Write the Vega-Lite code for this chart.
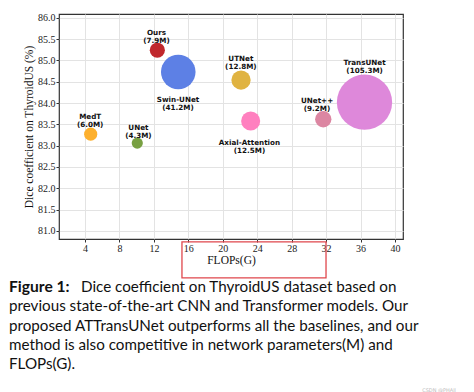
{
  "$schema": "https://vega.github.io/schema/vega-lite/v6.json",
  "background": "white",
  "padding": {"left": 9, "top": 12, "right": 0, "bottom": 0},
  "spacing": 0,
  "config": {
    "view": {"stroke": "#333333", "strokeWidth": 1.2},
    "axis": {
      "labelFont": "Liberation Serif",
      "labelFontSize": 10,
      "labelColor": "#222222",
      "titleFont": "Liberation Serif",
      "titleFontSize": 11.5,
      "titleFontWeight": "normal",
      "titleColor": "#111111",
      "domain": false,
      "tickColor": "#333333",
      "tickSize": 3,
      "labelPadding": 1,
      "gridColor": "#e3e3e3",
      "gridWidth": 1,
      "labelOverlap": false
    },
    "axisX": {"labelFlush": false, "titlePadding": 1.5},
    "axisY": {"titlePadding": 3}
  },
  "datasets": {
    "models": [
      {"model": "Ours", "flops": 12.4, "dice": 85.24, "params": 7.9, "label": "Ours\n(7.9M)", "lx": 12.3, "ly": 85.65},
      {"model": "Swin-UNet", "flops": 14.83, "dice": 84.73, "params": 41.2, "label": "Swin-UNet\n(41.2M)", "lx": 14.8, "ly": 84.08},
      {"model": "UTNet", "flops": 22.12, "dice": 84.54, "params": 12.8, "label": "UTNet\n(12.8M)", "lx": 22.1, "ly": 85.04},
      {"model": "Axial-Attention", "flops": 23.24, "dice": 83.58, "params": 12.5, "label": "Axial-Attention\n(12.5M)", "lx": 23.1, "ly": 83.07},
      {"model": "UNet++", "flops": 31.67, "dice": 83.62, "params": 9.2, "label": "UNet++\n(9.2M)", "lx": 30.95, "ly": 84.06},
      {"model": "TransUNet", "flops": 36.46, "dice": 84.02, "params": 105.3, "label": "TransUNet\n(105.3M)", "lx": 36.47, "ly": 84.94},
      {"model": "MedT", "flops": 4.66, "dice": 83.27, "params": 6.0, "label": "MedT\n(6.0M)", "lx": 4.6, "ly": 83.68},
      {"model": "UNet", "flops": 10.07, "dice": 83.06, "params": 4.3, "label": "UNet\n(4.3M)", "lx": 10.2, "ly": 83.41}
    ],
    "box": [
      {"x1": 15.26, "x2": 31.99, "y1": 80.742, "y2": 79.897}
    ],
    "caption": [
      {"line": 1, "text": "Dice coefficient on ThyroidUS dataset based on"},
      {"line": 2, "text": "previous state-of-the-art CNN and Transformer models. Our"},
      {"line": 3, "text": "proposed ATTransUNet outperforms all the baselines, and our"},
      {"line": 4, "text": "method is also competitive in network parameters(M) and"},
      {"line": 5, "text": "FLOPs(G)."}
    ]
  },
  "vconcat": [
    {
      "width": 344,
      "height": 225,
      "view": {"fill": "white"},
      "layer": [
        {
          "data": {"name": "models"},
          "mark": {"type": "circle", "opacity": 1},
          "encoding": {
            "x": {
              "field": "flops", "type": "quantitative", "title": "FLOPs(G)",
              "scale": {"domain": [0.98, 40.93], "nice": false, "zero": false},
              "axis": {"values": [4, 8, 12, 16, 20, 24, 28, 32, 36, 40]}
            },
            "y": {
              "field": "dice", "type": "quantitative", "title": "Dice coefficient on ThyroidUS (%)",
              "scale": {"domain": [80.81, 86.09], "nice": false, "zero": false},
              "axis": {"values": [81, 81.5, 82, 82.5, 83, 83.5, 84, 84.5, 85, 85.5, 86], "format": ".1f"}
            },
            "size": {"field": "params", "type": "quantitative", "scale": {"type": "linear", "domain": [0, 105.3], "range": [0, 3054]}, "legend": null},
            "color": {
              "field": "model", "type": "nominal", "legend": null,
              "scale": {
                "domain": ["Ours", "Swin-UNet", "UTNet", "Axial-Attention", "UNet++", "TransUNet", "MedT", "UNet"],
                "range": ["#c0282d", "#5d80e5", "#e0b341", "#ff80bf", "#dc86a2", "#de88da", "#fdb02e", "#78a042"]
              }
            }
          }
        },
        {
          "data": {"name": "models"},
          "mark": {"type": "text", "font": "DejaVu Sans", "fontWeight": "bold", "fontSize": 7.2, "lineBreak": "\n", "lineHeight": 8, "baseline": "middle", "align": "center", "color": "#111111"},
          "encoding": {
            "x": {"field": "lx", "type": "quantitative", "title": "FLOPs(G)", "axis": {"values": [4, 8, 12, 16, 20, 24, 28, 32, 36, 40]}},
            "y": {"field": "ly", "type": "quantitative", "title": "Dice coefficient on ThyroidUS (%)", "axis": {"values": [81, 81.5, 82, 82.5, 83, 83.5, 84, 84.5, 85, 85.5, 86], "format": ".1f"}},
            "text": {"field": "label"}
          }
        },
        {
          "data": {"name": "box"},
          "mark": {"type": "rect", "fill": "white", "fillOpacity": 0, "stroke": "#e0474c", "strokeWidth": 1.3, "clip": false},
          "encoding": {
            "x": {"field": "x1", "type": "quantitative", "title": "FLOPs(G)", "axis": {"values": [4, 8, 12, 16, 20, 24, 28, 32, 36, 40]}},
            "x2": {"field": "x2"},
            "y": {"field": "y1", "type": "quantitative", "title": "Dice coefficient on ThyroidUS (%)", "axis": {"values": [81, 81.5, 82, 82.5, 83, 83.5, 84, 84.5, 85, 85.5, 86], "format": ".1f"}},
            "y2": {"field": "y2"}
          }
        }
      ]
    },
    {
      "width": 397,
      "height": 100,
      "view": {"stroke": null},
      "layer": [
        {
          "data": {"name": "caption"},
          "transform": [{"filter": "datum.line > 1"}],
          "mark": {"type": "text", "align": "left", "baseline": "middle", "font": "Lato", "fontSize": 15.2, "color": "#111111", "dx": -50},
          "encoding": {
            "x": {"datum": 0, "type": "quantitative", "scale": {"domain": [0, 1]}, "axis": null},
            "y": {"field": "line", "type": "quantitative", "scale": {"domain": [0.74, 5.935], "reverse": true, "nice": false, "zero": false}, "axis": null},
            "text": {"field": "text"}
          }
        },
        {
          "data": {"name": "caption"},
          "transform": [{"filter": "datum.line == 1"}],
          "mark": {"type": "text", "align": "left", "baseline": "middle", "font": "Lato", "fontSize": 15.2, "color": "#111111", "dx": 22},
          "encoding": {
            "x": {"datum": 0, "type": "quantitative"},
            "y": {"field": "line", "type": "quantitative"},
            "text": {"field": "text"}
          }
        },
        {
          "data": {"values": [{"line": 1, "text": "Figure 1:"}]},
          "mark": {"type": "text", "align": "left", "baseline": "middle", "font": "Lato", "fontWeight": "bold", "fontSize": 15.6, "color": "#111111", "dx": -50},
          "encoding": {
            "x": {"datum": 0, "type": "quantitative"},
            "y": {"field": "line", "type": "quantitative"},
            "text": {"field": "text"}
          }
        },
        {
          "data": {"values": [{"line": 6.35, "text": "CSDN @PHAll"}]},
          "mark": {"type": "text", "align": "right", "baseline": "middle", "font": "DejaVu Sans", "fontSize": 5, "color": "#bbbbbb"},
          "encoding": {
            "x": {"datum": 1, "type": "quantitative"},
            "y": {"field": "line", "type": "quantitative"},
            "text": {"field": "text"}
          }
        }
      ]
    }
  ]
}
